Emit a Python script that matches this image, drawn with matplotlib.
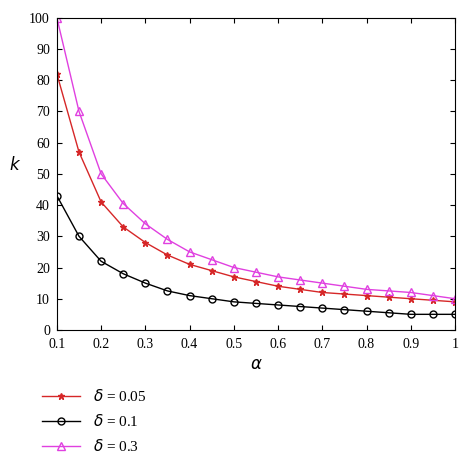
import matplotlib.pyplot as plt

alpha = [0.1, 0.15, 0.2, 0.25, 0.3, 0.35, 0.4, 0.45, 0.5, 0.55, 0.6, 0.65, 0.7, 0.75, 0.8, 0.85, 0.9, 0.95, 1.0]
k_005 = [82, 57, 41, 33, 28, 24, 21, 19, 17, 15.5, 14, 13, 12, 11.5, 11, 10.5, 10, 9.5, 9]
k_01 = [43, 30, 22, 18, 15, 12.5, 11, 10, 9, 8.5, 8, 7.5, 7, 6.5, 6, 5.5, 5, 5, 5]
k_03 = [100, 70, 50, 40.5, 34, 29, 25, 22.5, 20, 18.5, 17, 16, 15, 14, 13, 12.5, 12, 11, 10]

plt.rcParams['font.family'] = ['Liberation Serif', 'DejaVu Serif']
fig = plt.figure(figsize=(4.74, 4.68), dpi=100)
ax = fig.add_axes([0.12, 0.295, 0.84, 0.667])

l1, = ax.plot(alpha, k_005, color='#d62728', marker='*', ms=5, mfc='#d62728', lw=1, label=r'$\delta$ = 0.05')
l2, = ax.plot(alpha, k_01, color='black', marker='o', ms=5, mfc='none', lw=1, label=r'$\delta$ = 0.1')
l3, = ax.plot(alpha, k_03, color='#e040e0', marker='^', ms=6, mfc='none', lw=1, label=r'$\delta$ = 0.3')

ax.set_xlim(0.1, 1)
ax.set_ylim(0, 100)
ax.set_xticks([0.1, 0.2, 0.3, 0.4, 0.5, 0.6, 0.7, 0.8, 0.9, 1])
ax.set_xticklabels(['0.1', '0.2', '0.3', '0.4', '0.5', '0.6', '0.7', '0.8', '0.9', '1'])
ax.set_yticks(range(0, 101, 10))
ax.tick_params(direction='in', labelsize=10, top=True, right=True)
ax.tick_params(axis='x', pad=6)
ax.tick_params(axis='y', pad=5)
ax.set_xlabel(r'$\alpha$', fontsize=12)
ax.set_ylabel(r'$k$', fontsize=12, rotation=0, labelpad=10)

fig.legend(handles=[l1, l2, l3], loc='lower left', bbox_to_anchor=(0.06, 0.0),
           frameon=False, fontsize=11, handlelength=2.5, labelspacing=0.6)
fig.savefig('out.png', dpi=100)
